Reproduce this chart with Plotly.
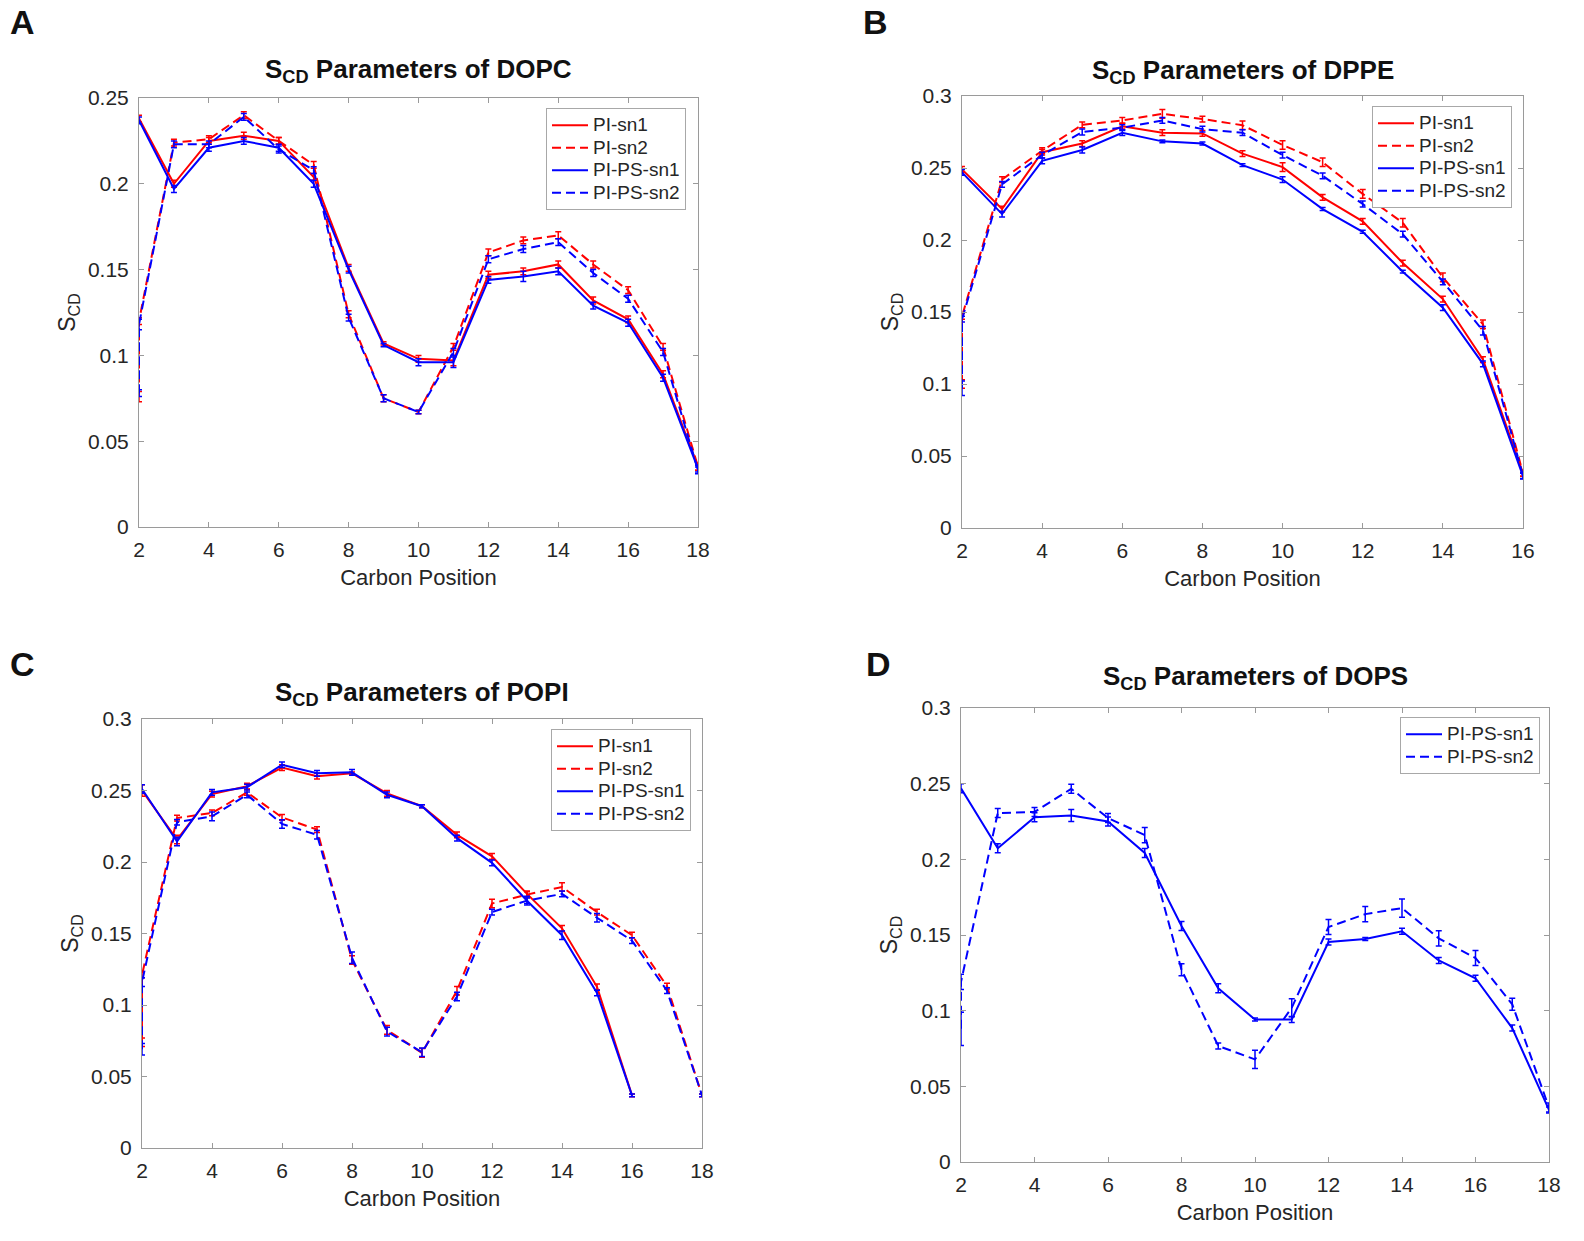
import plotly.graph_objects as go

RED = "#ff0000"
BLUE = "#0000ff"
FONT = "Liberation Sans, Arial, Helvetica, sans-serif"
TXT = "#262626"
AXC = "#9a9a9a"

# ---------------- Panel A : DOPC ----------------
dopc_x_sn1 = [2, 3, 4, 5, 6, 7, 8, 9, 10, 11, 12, 13, 14, 15, 16, 17, 18]
dopc_x_sn2 = [2, 2, 3, 4, 5, 6, 7, 8, 9, 10, 11, 12, 13, 14, 15, 16, 17, 18]
dopc_pi_sn1 = [0.238, 0.200, 0.225, 0.228, 0.225, 0.204, 0.151, 0.107, 0.098, 0.097, 0.147, 0.149, 0.153, 0.132, 0.121, 0.089, 0.035]
dopc_pi_sn1_err = [0.002, 0.002, 0.002, 0.002, 0.002, 0.002, 0.002, 0.001, 0.002, 0.003, 0.002, 0.002, 0.002, 0.002, 0.002, 0.002, 0.002]
dopc_pi_sn2 = [0.076, 0.120, 0.224, 0.226, 0.240, 0.225, 0.211, 0.124, 0.075, 0.067, 0.105, 0.160, 0.167, 0.170, 0.153, 0.138, 0.105, 0.035]
dopc_pi_sn2_err = [0.003, 0.002, 0.002, 0.002, 0.002, 0.002, 0.002, 0.002, 0.002, 0.001, 0.002, 0.002, 0.002, 0.002, 0.002, 0.002, 0.002, 0.002]
dopc_ps_sn1 = [0.237, 0.197, 0.221, 0.225, 0.221, 0.200, 0.150, 0.106, 0.096, 0.096, 0.144, 0.146, 0.149, 0.129, 0.119, 0.087, 0.034]
dopc_ps_sn1_err = [0.002, 0.002, 0.002, 0.002, 0.002, 0.002, 0.002, 0.001, 0.002, 0.003, 0.002, 0.003, 0.002, 0.002, 0.002, 0.002, 0.002]
dopc_ps_sn2 = [0.078, 0.118, 0.223, 0.223, 0.239, 0.220, 0.208, 0.122, 0.075, 0.067, 0.102, 0.156, 0.162, 0.166, 0.148, 0.133, 0.102, 0.033]
dopc_ps_sn2_err = [0.002, 0.003, 0.002, 0.002, 0.002, 0.002, 0.002, 0.002, 0.002, 0.001, 0.002, 0.002, 0.002, 0.002, 0.002, 0.002, 0.002, 0.002]

# ---------------- Panel B : DPPE ----------------
dppe_x_sn1 = [2, 3, 4, 5, 6, 7, 8, 9, 10, 11, 12, 13, 14, 15, 16]
dppe_x_sn2 = [2, 2, 3, 4, 5, 6, 7, 8, 9, 10, 11, 12, 13, 14, 15, 16]
dppe_pi_sn1 = [0.249, 0.2215, 0.261, 0.267, 0.279, 0.2745, 0.274, 0.260, 0.2506, 0.2296, 0.213, 0.184, 0.159, 0.117, 0.038]
dppe_pi_sn1_err = [0.002, 0.002, 0.002, 0.002, 0.002, 0.002, 0.002, 0.002, 0.003, 0.002, 0.002, 0.002, 0.002, 0.002, 0.002]
dppe_pi_sn2 = [0.100, 0.147, 0.242, 0.262, 0.280, 0.283, 0.2876, 0.284, 0.2797, 0.266, 0.254, 0.232, 0.212, 0.174, 0.1415, 0.038]
dppe_pi_sn2_err = [0.003, 0.002, 0.002, 0.002, 0.002, 0.002, 0.003, 0.002, 0.003, 0.003, 0.003, 0.003, 0.003, 0.003, 0.003, 0.002]
dppe_ps_sn1 = [0.247, 0.218, 0.255, 0.2625, 0.2745, 0.2685, 0.267, 0.252, 0.242, 0.2215, 0.2057, 0.178, 0.153, 0.114, 0.036]
dppe_ps_sn1_err = [0.002, 0.002, 0.002, 0.002, 0.002, 0.001, 0.001, 0.001, 0.002, 0.001, 0.001, 0.001, 0.002, 0.002, 0.002]
dppe_ps_sn2 = [0.097, 0.145, 0.2387, 0.259, 0.275, 0.278, 0.283, 0.277, 0.2745, 0.259, 0.2446, 0.225, 0.204, 0.171, 0.137, 0.0363]
dppe_ps_sn2_err = [0.005, 0.002, 0.002, 0.002, 0.002, 0.002, 0.002, 0.002, 0.002, 0.002, 0.002, 0.002, 0.002, 0.002, 0.003, 0.002]

# ---------------- Panel C : POPI ----------------
popi_x_sn1 = [2, 3, 4, 5, 6, 7, 8, 9, 10, 11, 12, 13, 14, 15, 16]
popi_x_sn2 = [2, 2, 3, 4, 5, 6, 7, 8, 9, 10, 11, 12, 13, 14, 15, 16, 17, 18]
popi_pi_sn1 = [0.250, 0.2157, 0.2475, 0.253, 0.266, 0.260, 0.262, 0.248, 0.239, 0.219, 0.204, 0.1777, 0.1536, 0.1127, 0.0368]
popi_pi_sn1_err = [0.004, 0.003, 0.002, 0.002, 0.002, 0.002, 0.001, 0.002, 0.001, 0.002, 0.002, 0.002, 0.002, 0.002, 0.001]
popi_pi_sn2 = [0.074, 0.121, 0.2307, 0.2343, 0.2487, 0.2312, 0.2227, 0.1315, 0.0826, 0.0665, 0.110, 0.171, 0.1772, 0.1825, 0.165, 0.1488, 0.1132, 0.0368]
popi_pi_sn2_err = [0.003, 0.002, 0.002, 0.002, 0.002, 0.002, 0.002, 0.003, 0.003, 0.003, 0.003, 0.003, 0.002, 0.003, 0.002, 0.002, 0.002, 0.001]
popi_ps_sn1 = [0.251, 0.2143, 0.2487, 0.2523, 0.268, 0.262, 0.2627, 0.247, 0.239, 0.2167, 0.1994, 0.1729, 0.1488, 0.1084, 0.0368]
popi_ps_sn1_err = [0.003, 0.003, 0.002, 0.002, 0.002, 0.002, 0.002, 0.002, 0.001, 0.002, 0.002, 0.002, 0.003, 0.002, 0.001]
popi_ps_sn2 = [0.069, 0.116, 0.2278, 0.2319, 0.247, 0.2266, 0.219, 0.133, 0.0814, 0.067, 0.106, 0.165, 0.173, 0.1777, 0.161, 0.145, 0.110, 0.0368]
popi_ps_sn2_err = [0.004, 0.003, 0.002, 0.003, 0.002, 0.003, 0.003, 0.004, 0.003, 0.003, 0.003, 0.002, 0.003, 0.002, 0.003, 0.002, 0.002, 0.001]

# ---------------- Panel D : DOPS ----------------
dops_x_sn1 = [2, 3, 4, 5, 6, 7, 8, 9, 10, 11, 12, 13, 14, 15, 16, 17, 18]
dops_x_sn2 = [2, 2, 3, 4, 5, 6, 7, 8, 9, 10, 11, 12, 13, 14, 15, 16, 17, 18]
dops_ps_sn1 = [0.247, 0.2073, 0.2278, 0.229, 0.225, 0.2042, 0.156, 0.1148, 0.0941, 0.0941, 0.1454, 0.1473, 0.1525, 0.1332, 0.1214, 0.0885, 0.0344]
dops_ps_sn1_err = [0.003, 0.003, 0.003, 0.004, 0.003, 0.003, 0.003, 0.003, 0.001, 0.002, 0.002, 0.001, 0.002, 0.002, 0.002, 0.002, 0.002]
dops_ps_sn2 = [0.088, 0.119, 0.2306, 0.2313, 0.2466, 0.2273, 0.216, 0.127, 0.0767, 0.0678, 0.1019, 0.1553, 0.1638, 0.1678, 0.1478, 0.1348, 0.1042, 0.036]
dops_ps_sn2_err = [0.011, 0.005, 0.003, 0.003, 0.003, 0.003, 0.005, 0.004, 0.002, 0.006, 0.006, 0.005, 0.005, 0.006, 0.005, 0.005, 0.004, 0.003]

# tick labels
x_ticks_18 = [2, 4, 6, 8, 10, 12, 14, 16, 18]
x_ticks_16 = [2, 4, 6, 8, 10, 12, 14, 16]
y_ticks_025 = [0, 0.05, 0.1, 0.15, 0.2, 0.25]
y_ticks_03 = [0, 0.05, 0.1, 0.15, 0.2, 0.25, 0.3]
y_text_025 = ["0", "0.05", "0.1", "0.15", "0.2", "0.25"]
y_text_03 = ["0", "0.05", "0.1", "0.15", "0.2", "0.25", "0.3"]

lipids = ["DOPC", "DPPE", "POPI", "DOPS"]
letters = ["A", "B", "C", "D"]

# ---------------- layout geometry (pixels) ----------------
W, H = 1584, 1241
# left, right, top, bottom of each axes box
boxes = [
    (139, 698, 98, 527),
    (962, 1523, 96, 528),
    (142, 702, 719, 1148),
    (961, 1549, 708, 1162),
]
legend_pos = [(686, 108), (1512, 106), (691, 729), (1540, 717)]
letter_pos = [(22, 22), (876, 22), (22, 664), (878, 664)]
title_y = [70, 71, 693, 677]

fig = go.Figure()

panels = [
    [("PI-sn1", dopc_x_sn1, dopc_pi_sn1, dopc_pi_sn1_err, RED, "solid"),
     ("PI-sn2", dopc_x_sn2, dopc_pi_sn2, dopc_pi_sn2_err, RED, "dash"),
     ("PI-PS-sn1", dopc_x_sn1, dopc_ps_sn1, dopc_ps_sn1_err, BLUE, "solid"),
     ("PI-PS-sn2", dopc_x_sn2, dopc_ps_sn2, dopc_ps_sn2_err, BLUE, "dash")],
    [("PI-sn1", dppe_x_sn1, dppe_pi_sn1, dppe_pi_sn1_err, RED, "solid"),
     ("PI-sn2", dppe_x_sn2, dppe_pi_sn2, dppe_pi_sn2_err, RED, "dash"),
     ("PI-PS-sn1", dppe_x_sn1, dppe_ps_sn1, dppe_ps_sn1_err, BLUE, "solid"),
     ("PI-PS-sn2", dppe_x_sn2, dppe_ps_sn2, dppe_ps_sn2_err, BLUE, "dash")],
    [("PI-sn1", popi_x_sn1, popi_pi_sn1, popi_pi_sn1_err, RED, "solid"),
     ("PI-sn2", popi_x_sn2, popi_pi_sn2, popi_pi_sn2_err, RED, "dash"),
     ("PI-PS-sn1", popi_x_sn1, popi_ps_sn1, popi_ps_sn1_err, BLUE, "solid"),
     ("PI-PS-sn2", popi_x_sn2, popi_ps_sn2, popi_ps_sn2_err, BLUE, "dash")],
    [("PI-PS-sn1", dops_x_sn1, dops_ps_sn1, dops_ps_sn1_err, BLUE, "solid"),
     ("PI-PS-sn2", dops_x_sn2, dops_ps_sn2, dops_ps_sn2_err, BLUE, "dash")],
]

x_ranges = [[2, 18], [2, 16], [2, 18], [2, 18]]
x_tickvals = [x_ticks_18, x_ticks_16, x_ticks_18, x_ticks_18]
y_ranges = [[0, 0.25], [0, 0.3], [0, 0.3], [0, 0.3]]
y_tickvals = [y_ticks_025, y_ticks_03, y_ticks_03, y_ticks_03]
y_ticktext = [y_text_025, y_text_03, y_text_03, y_text_03]

annotations = []
layout_axes = {}
for i in range(4):
    n = "" if i == 0 else str(i + 1)
    leg = "legend" if i == 0 else "legend" + str(i + 1)
    l, r, t, b = boxes[i]
    for name, xs, ys, es, col, dash in panels[i]:
        fig.add_trace(go.Scatter(
            x=xs, y=ys, name='<span style="font-size:19px">' + name + '</span>', mode="lines",
            line=dict(color=col, width=2, dash=("9px,5px" if dash == "dash" else "solid")),
            error_y=dict(type="data", array=es, visible=True, color=col, thickness=1.5, width=3),
            xaxis="x" + n, yaxis="y" + n, legend=leg, cliponaxis=False,
        ))
    common = dict(
        showgrid=False, zeroline=False, showline=True, linecolor=AXC, linewidth=1,
        mirror="ticks", ticks="inside", ticklen=5, tickwidth=1, tickcolor=AXC,
        tickfont=dict(family=FONT, size=21, color=TXT), automargin=False,
    )
    layout_axes["xaxis" + n] = dict(
        common, domain=[l / W, r / W], range=x_ranges[i], tickvals=x_tickvals[i],
        anchor="y" + n, ticklabelstandoff=4,
        title=dict(text="Carbon Position", font=dict(family=FONT, size=22, color=TXT), standoff=9),
    )
    layout_axes["yaxis" + n] = dict(
        common, domain=[1 - b / H, 1 - t / H], range=y_ranges[i], tickvals=y_tickvals[i],
        ticktext=y_ticktext[i], anchor="x" + n, ticklabelstandoff=5,
        title=dict(text="S<sub>CD</sub>", font=dict(family=FONT, size=23, color=TXT), standoff=5),
    )
    lx, ly = legend_pos[i]
    layout_axes[leg] = dict(
        x=lx / W, y=1 - ly / H, xanchor="right", yanchor="top",
        bgcolor="white", bordercolor="#a8a8a8", borderwidth=1,
        font=dict(family=FONT, size=15, color=TXT), itemwidth=36,
        tracegroupgap=0,
    )
    annotations.append(dict(
        x=(l + r) / 2 / W, y=1 - title_y[i] / H, xref="paper", yref="paper",
        text="<b>S<sub>CD</sub> Parameters of " + lipids[i] + "</b>",
        showarrow=False, xanchor="center", yanchor="middle",
        font=dict(family=FONT, size=26, color="#111111"),
    ))
    px, py = letter_pos[i]
    annotations.append(dict(
        x=px / W, y=1 - py / H, xref="paper", yref="paper",
        text="<b>" + letters[i] + "</b>", showarrow=False,
        xanchor="center", yanchor="middle",
        font=dict(family=FONT, size=34, color="#111111"),
    ))

fig.update_layout(
    width=W, height=H, margin=dict(l=0, r=0, t=0, b=0),
    paper_bgcolor="white", plot_bgcolor="white",
    showlegend=True, annotations=annotations,
    font=dict(family=FONT, color=TXT),
    **layout_axes,
)

fig.write_html("out.html", config={"displayModeBar": False},
               post_script="document.body.style.margin='0';document.body.style.overflow='hidden';")
